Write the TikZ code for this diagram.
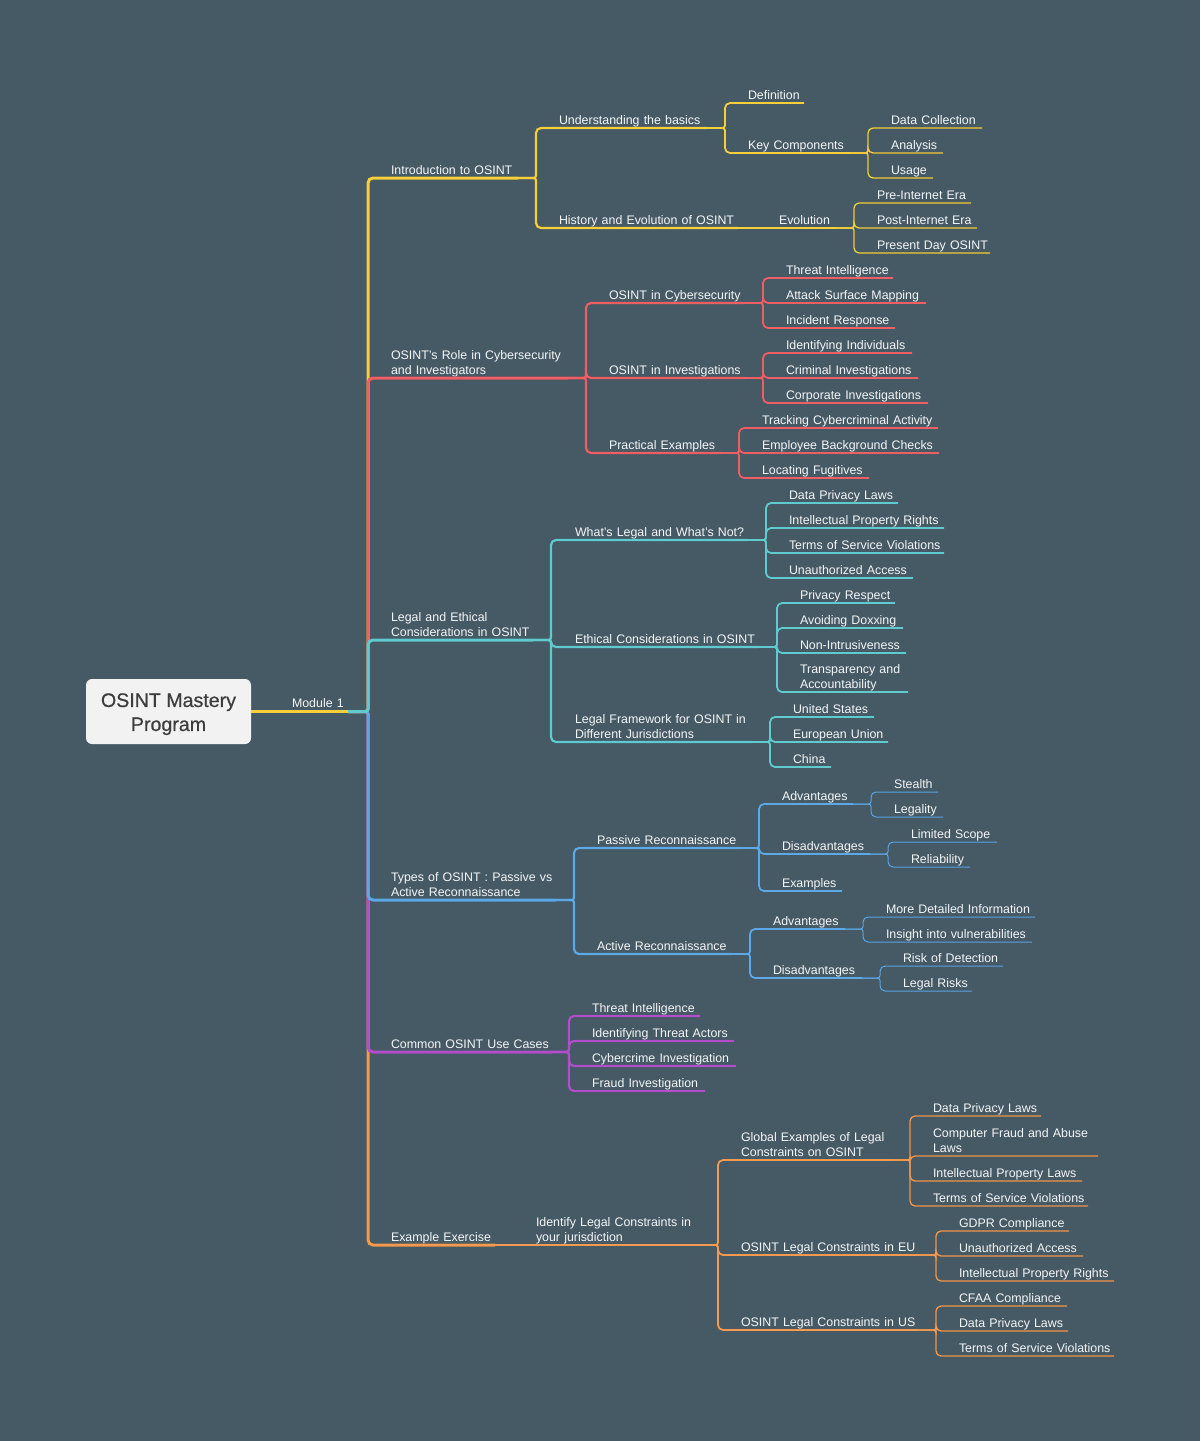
\documentclass[tikz,border=0pt]{standalone}
\usepackage{fontspec}
\setmainfont{Liberation Sans}
\newfontfamily\rootfont[FakeBold=0.6]{Liberation Sans}
\definecolor{bgc}{HTML}{465A66}
\definecolor{shc}{HTML}{3B4D59}
\definecolor{cy}{HTML}{F7CF3B}
\definecolor{cr}{HTML}{EE5E63}
\definecolor{ct}{HTML}{5FCBCF}
\definecolor{cb}{HTML}{5DA8E6}
\definecolor{cp}{HTML}{B14FCB}
\definecolor{co}{HTML}{F4994E}
\definecolor{txt}{HTML}{F4F6F6}
\tikzset{
  tp/.style={anchor=south west,inner sep=0pt,outer sep=0pt,align=left,text=txt,font=\fontsize{12.4}{15}\selectfont},
  rootbox/.style={rectangle,rounded corners=6pt,fill=white!95!black,text=black!76,align=center,inner sep=0pt,outer sep=0pt,minimum width=165pt,minimum height=65pt,font=\rootfont\fontsize{19.6}{24}\selectfont},
  wA/.style={line width=3pt},
  wB/.style={line width=2.2pt},
  wC/.style={line width=1.8pt},
  wD/.style={line width=1.3pt},
  wE/.style={line width=1pt},
  pass/.style={}
}
% name, text x, line y, line end x, text
\newcommand{\tnode}[5]{\node[tp,text width=\dimexpr #4pt-#2pt\relax] (#1) at (#2,#3) {#5\rule[-4pt]{0pt}{4pt}};}
% colour, width style, parent, bracket x, children
\newcommand{\fork}[5]{%
  \coordinate (b#3) at (#4,0);
  \foreach \c in {#5} {\draw[#1,#2,pass] (#3.south east) [rounded corners=2.5pt] -- (b#3 |- #3.south east) [rounded corners=5pt] -- (b#3 |- \c.south east) -- (\c.south east);}}
% colour, width style, parent, child on the same line
\newcommand{\slink}[4]{\draw[#1,#2,pass] (#3.south east) -- (#4.south east);}
\newcommand{\connectors}{%
\slink{cy}{wA}{root.east |- m}{m}
\fork{cy}{wA}{m}{368}{i}
\fork{cr}{wA}{m}{368}{r}
\fork{co}{wA}{m}{368}{e}
\fork{cp}{wA}{m}{368}{c}
\fork{cb}{wA}{m}{368}{t}
\fork{ct}{wA}{m}{368}{l}
\fork{cy}{wB}{i}{536}{ia,ib}
\fork{cy}{wC}{ia}{725}{iaa,iab}
\slink{cy}{wC}{ib}{iba}
\fork{cy}{wD}{iab}{868}{iaba,iabb,iabc}
\fork{cy}{wD}{iba}{854}{ibaa,ibab,ibac}
\fork{cr}{wB}{r}{586}{ra,rb,rc}
\fork{cr}{wC}{ra}{763}{raa,rab,rac}
\fork{cr}{wC}{rb}{763}{rba,rbb,rbc}
\fork{cr}{wC}{rc}{739}{rca,rcb,rcc}
\fork{ct}{wB}{l}{551}{la,lb,lc}
\fork{ct}{wC}{la}{766}{laa,lab,lac,lad}
\fork{ct}{wC}{lb}{777}{lba,lbb,lbc,lbd}
\fork{ct}{wC}{lc}{770}{lca,lcb,lcc}
\fork{cb}{wB}{t}{574}{ta,tb}
\fork{cb}{wC}{ta}{759}{taa,tab,tac}
\fork{cb}{wC}{tb}{750}{tba,tbb}
\fork{cb}{wE}{taa}{871}{taaa,taab}
\fork{cb}{wE}{tab}{888}{taba,tabb}
\fork{cb}{wE}{tba}{863}{tbaa,tbab}
\fork{cb}{wE}{tbb}{880}{tbba,tbbb}
\fork{cp}{wB}{c}{569}{ca,cb,cc,cd}
\slink{co}{wB}{e}{ea}
\fork{co}{wC}{ea}{718}{eaa,eab,eac}
\fork{co}{wD}{eaa}{910}{eaaa,eaab,eaac,eaad}
\fork{co}{wD}{eab}{936}{eaba,eabb,eabc}
\fork{co}{wD}{eac}{936}{eaca,eacb,eacc}
}
\begin{document}
\begin{tikzpicture}[x=1pt,y=-1pt]
\useasboundingbox (0,0) rectangle (1200,1441);
\fill[bgc] (0,0) rectangle (1200,1441);
\node[rootbox] (root) at (168.5,711.5) {\rule{0pt}{19pt}OSINT Mastery\\Program};
\tnode{m}{292}{711.5}{348}{Module 1}
% level 1
\tnode{i}{391}{178}{518}{Introduction to OSINT}
\tnode{r}{391}{378}{568}{OSINT’s Role in Cybersecurity\\and Investigators}
\tnode{l}{391}{640}{533}{Legal and Ethical\\Considerations in OSINT}
\tnode{t}{391}{900}{556}{Types of OSINT : Passive vs\\Active Reconnaissance}
\tnode{c}{391}{1052}{552}{Common OSINT Use Cases}
\tnode{e}{391}{1245}{495}{Example Exercise}
% intro
\tnode{ia}{559}{128}{707}{Understanding the basics}
\tnode{ib}{559}{228}{738}{History and Evolution of OSINT}
\tnode{iaa}{748}{103}{804}{Definition}
\tnode{iab}{748}{153}{850}{Key Components}
\tnode{iaba}{891}{128}{982}{Data Collection}
\tnode{iabb}{891}{153}{943}{Analysis}
\tnode{iabc}{891}{178}{933}{Usage}
\tnode{iba}{779}{228}{836}{Evolution}
\tnode{ibaa}{877}{203}{971}{Pre-Internet Era}
\tnode{ibab}{877}{228}{977}{Post-Internet Era}
\tnode{ibac}{877}{253}{990}{Present Day OSINT}
% role
\tnode{ra}{609}{303}{745}{OSINT in Cybersecurity}
\tnode{rb}{609}{378}{745}{OSINT in Investigations}
\tnode{rc}{609}{453}{721}{Practical Examples}
\tnode{raa}{786}{278}{893}{Threat Intelligence}
\tnode{rab}{786}{303}{926}{Attack Surface Mapping}
\tnode{rac}{786}{328}{895}{Incident Response}
\tnode{rba}{786}{353}{912}{Identifying Individuals}
\tnode{rbb}{786}{378}{918}{Criminal Investigations}
\tnode{rbc}{786}{403}{928}{Corporate Investigations}
\tnode{rca}{762}{428}{938}{Tracking Cybercriminal Activity}
\tnode{rcb}{762}{453}{939}{Employee Background Checks}
\tnode{rcc}{762}{478}{869}{Locating Fugitives}
% legal
\tnode{la}{575}{540}{748}{What’s Legal and What’s Not?}
\tnode{lb}{575}{647}{759}{Ethical Considerations in OSINT}
\tnode{lc}{575}{742}{752}{Legal Framework for OSINT in\\Different Jurisdictions}
\tnode{laa}{789}{503}{898}{Data Privacy Laws}
\tnode{lab}{789}{528}{944}{Intellectual Property Rights}
\tnode{lac}{789}{553}{944}{Terms of Service Violations}
\tnode{lad}{789}{578}{913}{Unauthorized Access}
\tnode{lba}{800}{603}{895}{Privacy Respect}
\tnode{lbb}{800}{628}{903}{Avoiding Doxxing}
\tnode{lbc}{800}{653}{906}{Non-Intrusiveness}
\tnode{lbd}{800}{692}{908}{Transparency and\\Accountability}
\tnode{lca}{793}{717}{874}{United States}
\tnode{lcb}{793}{742}{888}{European Union}
\tnode{lcc}{793}{767}{831}{China}
% types
\tnode{ta}{597}{848}{741}{Passive Reconnaissance}
\tnode{tb}{597}{954}{732}{Active Reconnaissance}
\tnode{taa}{782}{804}{853}{Advantages}
\tnode{tab}{782}{854}{870}{Disadvantages}
\tnode{tac}{782}{891}{842}{Examples}
\tnode{taaa}{894}{792}{938}{Stealth}
\tnode{taab}{894}{817}{943}{Legality}
\tnode{taba}{911}{842}{997}{Limited Scope}
\tnode{tabb}{911}{867}{970}{Reliability}
\tnode{tba}{773}{929}{845}{Advantages}
\tnode{tbb}{773}{978}{862}{Disadvantages}
\tnode{tbaa}{886}{917}{1035}{More Detailed Information}
\tnode{tbab}{886}{942}{1032}{Insight into vulnerabilities}
\tnode{tbba}{903}{966}{1003}{Risk of Detection}
\tnode{tbbb}{903}{991}{972}{Legal Risks}
% common
\tnode{ca}{592}{1016}{700}{Threat Intelligence}
\tnode{cb}{592}{1041}{734}{Identifying Threat Actors}
\tnode{cc}{592}{1066}{736}{Cybercrime Investigation}
\tnode{cd}{592}{1091}{705}{Fraud Investigation}
% example
\tnode{ea}{536}{1245}{696}{Identify Legal Constraints in\\your jurisdiction}
\tnode{eaa}{741}{1160}{892}{Global Examples of Legal\\Constraints on OSINT}
\tnode{eab}{741}{1255}{918}{OSINT Legal Constraints in EU}
\tnode{eac}{741}{1330}{918}{OSINT Legal Constraints in US}
\tnode{eaaa}{933}{1116}{1041}{Data Privacy Laws}
\tnode{eaab}{933}{1156}{1098}{Computer Fraud and Abuse\\Laws}
\tnode{eaac}{933}{1181}{1082}{Intellectual Property Laws}
\tnode{eaad}{933}{1206}{1088}{Terms of Service Violations}
\tnode{eaba}{959}{1231}{1069}{GDPR Compliance}
\tnode{eabb}{959}{1256}{1083}{Unauthorized Access}
\tnode{eabc}{959}{1281}{1114}{Intellectual Property Rights}
\tnode{eaca}{959}{1306}{1067}{CFAA Compliance}
\tnode{eacb}{959}{1331}{1068}{Data Privacy Laws}
\tnode{eacc}{959}{1356}{1114}{Terms of Service Violations}
% connectors: soft shadow first, coloured lines on top
\tikzset{pass/.style={shc,yshift=-0.8pt}}
\connectors
\tikzset{pass/.style={}}
\connectors
\end{tikzpicture}
\end{document}
